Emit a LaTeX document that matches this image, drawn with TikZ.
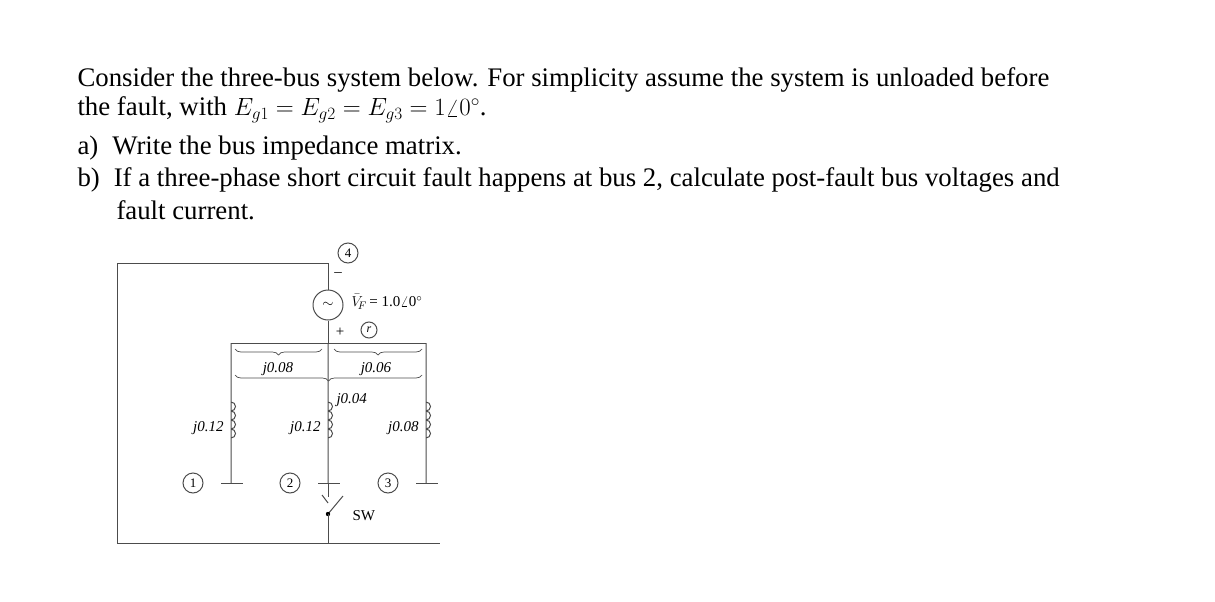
\documentclass[tikz,border=0pt]{standalone}
\usepackage{fontspec}
\setmainfont{Liberation Serif}
\usetikzlibrary{decorations.pathreplacing}
\begin{document}
\begin{tikzpicture}[x=1pt,y=-1pt,line width=1pt,draw=black!70,
  txt/.style={anchor=west,inner sep=0pt,font=\fontsize{26.8}{30}\selectfont},
  bus/.style={circle,draw,inner sep=0pt,minimum size=20pt,font=\fontsize{13}{13}\selectfont},
  lab/.style={inner sep=1pt,font=\fontsize{15}{15}\selectfont},
  brc/.style={decorate,decoration={brace,amplitude=6pt},line width=0.7pt}]
\useasboundingbox (0,0) rectangle (1215,602);
\node[txt] (t1) at (77,80) {Consider the three-bus system below. For simplicity assume the system is unloaded before};
\node[txt] (t2) at (77,110) {the fault, with $E_{g1}=E_{g2}=E_{g3}=1\angle 0^\circ$.};
\node[txt] (t3) at (77,148) {a)\hspace{14pt}Write the bus impedance matrix.};
\node[txt] (t4) at (77,180) {b)\hspace{14pt}If a three-phase short circuit fault happens at bus 2, calculate post-fault bus voltages and};
\node[txt] (t5) at (116,210) {fault current.};
% circuit
\coordinate (tl) at (117,263); \coordinate (tr) at (328,263);
\coordinate (bl) at (117,543); \coordinate (br) at (440,543);
\node[circle,draw,minimum size=30pt,inner sep=0pt,font=\fontsize{15}{15}\selectfont] (src) at (328,305) {$\sim$};
\node[bus] (n4) at (348,253) {4};
\node[bus,minimum size=16pt,font=\fontsize{12}{12}\selectfont\itshape] (nr) at (369,330) {r};
\node[lab] (m) at (338,275) {--};
\node[lab] (p) at (340,332) {+};
\node[lab,anchor=west] (vf) at (350,302) {$\bar V_{\!F}\,$= 1.0$\angle$0$^\circ$};
\coordinate (bus) at (328,343);
\coordinate (L) at (231,343); \coordinate (R) at (426,343);
\draw (bl) -- (tl) -- (tr) -- (src.north);
\draw (src.south) -- (bus);
\draw (L) -- (R);
\draw (bl) -- (br);
% branches
\foreach \x/\nm/\lb/\nn in {231/1/j0.12/a,328/2/j0.12/b,426/3/j0.08/c}{
  \draw (\x,343) -- (\x,405)
    \foreach \k in {0,1,2,3}{ -- (\x,411+9*\k) arc[start angle=-90,end angle=90,radius=4.5pt]}
    -- (\x,483);
  \draw (\x-10,483) -- (\x+12,483);
  \node[bus] (bus\nm) at (\x-38,483) {\nm};
  \node[lab,anchor=east] (l\nm) at (\x-6,428) {\itshape\lb};
}
% braces
\draw[brc] (322,349) -- (235,349);
\draw[brc] (422,349) -- (334,349);
\draw[brc] (422,375) -- (235,375);
\node[lab] (b1) at (278,369) {\itshape j0.08};
\node[lab] (b2) at (376,369) {\itshape j0.06};
\node[lab,anchor=west] (b3) at (335,400) {\itshape j0.04};
% switch
\coordinate (s2) at (328,514);
\draw (328,483) -- (328,497);
\draw (322,495) -- (328,503);
\draw (s2) -- (343,496);
\fill (s2) circle (2.2pt);
\draw (s2) -- (328,543);
\node[lab,anchor=west] (sw) at (351,516) {SW};
\end{tikzpicture}
\end{document}
